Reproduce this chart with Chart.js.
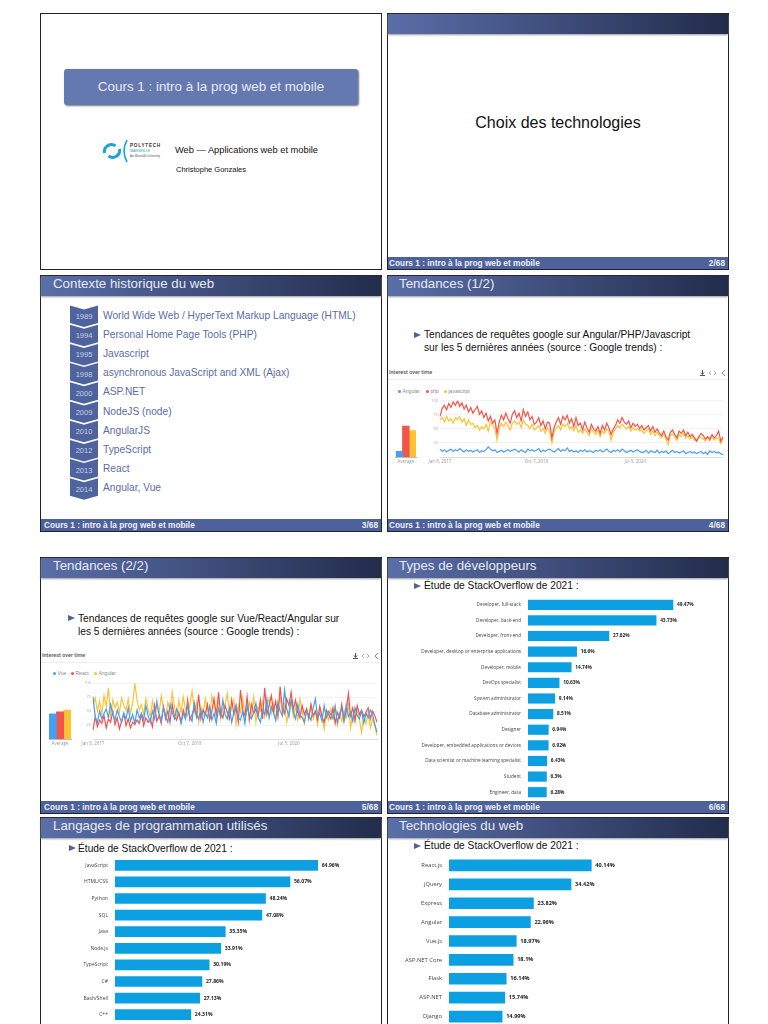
<!DOCTYPE html>
<html>
<head>
<meta charset="utf-8">
<script src="https://cdn.jsdelivr.net/npm/chart.js@4"></script>
<style>
html, body { margin: 0; padding: 0; background: #fff; width: 768px; height: 1024px; overflow: hidden; font-family: "Liberation Sans", sans-serif; }
.slide { position: absolute; width: 340px; height: 255px; border: 1px solid #222; background: #fff; box-sizing: content-box; }
.head { position: absolute; left: 0; right: 0; top: 0; height: 20px; background: linear-gradient(90deg, #5a6ea8, #222c4c); box-shadow: 0 1px 2px #999; color: #e6e9f2; font-size: 13.3px; line-height: 15px; padding-left: 12px; box-sizing: border-box; }
.foot { position: absolute; left: 0; right: 0; bottom: 0; height: 12px; background: #4d619c; color: #eef0f6; font-size: 8.3px; font-weight: bold; line-height: 12px; padding: 0 3px; display: flex; justify-content: space-between; }
.r .head { padding-left: 11px; }
.r .foot { padding-left: 1px; }
.t { position: absolute; white-space: nowrap; }
.tri { position: absolute; width: 0; height: 0; border-left: 7px solid #4d619c; border-top: 3.5px solid transparent; border-bottom: 3.5px solid transparent; }
canvas { position: absolute; }
</style>
</head>
<body>

<div class="slide" style="left:40px;top:13px;">
  <div class="t" style="left:23px;top:55px;width:294px;height:36px;background:#6479b0;border-radius:3px;box-shadow:1px 1px 2px #777;color:#e8ebf3;font-size:13.4px;line-height:36px;text-align:center;">Cours 1 : intro à la prog web et mobile</div>
  <svg class="t" style="left:60px;top:124px;" width="72" height="26" viewBox="0 0 72 26">
    <path d="M3.5 15a7 7 0 0 1 11-7" fill="none" stroke="#19a3dc" stroke-width="3"/>
    <path d="M18.5 11a7 7 0 0 1 -11 7" fill="none" stroke="#19a3dc" stroke-width="3"/>
    <path d="M26 2q-6 11 0 22" fill="none" stroke="#19a3dc" stroke-width="1.6"/>
    <text x="29" y="9" font-size="4.6" font-weight="bold" fill="#333" font-family="Liberation Sans" letter-spacing="0.8">POLYTECH</text>
    <text x="29" y="14" font-size="3.6" fill="#19a3dc" font-family="Liberation Sans">MARSEILLE</text>
    <text x="29" y="19" font-size="2.9" fill="#555" font-family="Liberation Sans">Aix-Marseille University</text>
  </svg>
  <div class="t" style="left:134px;top:131px;font-size:9.3px;color:#111;">Web — Applications web et mobile</div>
  <div class="t" style="left:135px;top:151px;font-size:7.5px;color:#111;">Christophe Gonzales</div>
</div>

<div class="slide r" style="left:387px;top:13px;">
  <div class="head"></div>
  <div class="t" style="left:0;width:340px;top:100px;text-align:center;font-size:16px;color:#111;">Choix des technologies</div>
  <div class="foot"><span>Cours 1 : intro à la prog web et mobile</span><span>2/68</span></div>
</div>

<div class="slide" id="historySlide" style="left:40px;top:275px;">
  <div class="head">Contexte historique du web</div>
  <div class="foot"><span>Cours 1 : intro à la prog web et mobile</span><span>3/68</span></div>
</div>

<div class="slide r" style="left:387px;top:275px;">
  <div class="head">Tendances (1/2)</div>
  <div class="tri" style="left:26px;top:56px;"></div>
  <div class="t" style="left:36px;top:52px;font-size:10.2px;line-height:13px;color:#111;">Tendances de requêtes google sur Angular/PHP/Javascript<br>sur les 5 dernières années (source : Google trends) :</div>
  <div class="foot"><span>Cours 1 : intro à la prog web et mobile</span><span>4/68</span></div>
</div>

<div class="slide" style="left:40px;top:557px;">
  <div class="head">Tendances (2/2)</div>
  <div class="tri" style="left:27px;top:57px;"></div>
  <div class="t" style="left:37px;top:54px;font-size:10.2px;line-height:13px;color:#111;">Tendances de requêtes google sur Vue/React/Angular sur<br>les 5 dernières années (source : Google trends) :</div>
  <div class="foot"><span>Cours 1 : intro à la prog web et mobile</span><span>5/68</span></div>
</div>

<div class="slide r" style="left:387px;top:557px;">
  <div class="head">Types de développeurs</div>
  <div class="tri" style="left:26px;top:25px;"></div>
  <div class="t" style="left:36px;top:22px;font-size:10.2px;color:#111;">Étude de StackOverflow de 2021 :</div>
  <div class="foot"><span>Cours 1 : intro à la prog web et mobile</span><span>6/68</span></div>
</div>

<div class="slide" style="left:40px;top:817px;">
  <div class="head">Langages de programmation utilisés</div>
  <div class="tri" style="left:28px;top:27px;"></div>
  <div class="t" style="left:37px;top:25px;font-size:10.2px;color:#111;">Étude de StackOverflow de 2021 :</div>
</div>

<div class="slide r" style="left:387px;top:817px;">
  <div class="head">Technologies du web</div>
  <div class="tri" style="left:26px;top:25px;"></div>
  <div class="t" style="left:36px;top:22px;font-size:10.2px;color:#111;">Étude de StackOverflow de 2021 :</div>
</div>

<script>
// Timeline of slide 3
const historyYears = ['1989', '1994', '1995', '1998', '2000', '2009', '2010', '2012', '2013', '2014'];
const historyItems = ['World Wide Web / HyperText Markup Language (HTML)', 'Personal Home Page Tools (PHP)', 'Javascript',
    'asynchronous JavaScript and XML (Ajax)', 'ASP.NET', 'NodeJS (node)', 'AngularJS', 'TypeScript', 'React', 'Angular, Vue'];

// Stack Overflow 2021 bars
const devCategories = ['Developer, full-stack', 'Developer, back-end', 'Developer, front-end', 'Developer, desktop or enterprise applications',
    'Developer, mobile', 'DevOps specialist', 'System administrator', 'Database administrator', 'Designer',
    'Developer, embedded applications or devices', 'Data scientist or machine learning specialist', 'Student', 'Engineer, data'];
const devValues = [49.47, 43.73, 27.62, 16.6, 14.74, 10.63, 9.14, 8.51, 6.94, 6.92, 6.43, 6.3, 6.28];

const langCategories = ['JavaScript', 'HTML/CSS', 'Python', 'SQL', 'Java', 'Node.js', 'TypeScript', 'C#', 'Bash/Shell', 'C++'];
const langValues = [64.96, 56.07, 48.24, 47.08, 35.35, 33.91, 30.19, 27.86, 27.13, 24.31];

const webCategories = ['React.js', 'jQuery', 'Express', 'Angular', 'Vue.js', 'ASP.NET Core', 'Flask', 'ASP.NET', 'Django'];
const webValues = [40.14, 34.42, 23.82, 22.96, 18.97, 18.1, 16.14, 15.74, 14.99];

// Google trends
const trendTicks = ['Jan 8, 2017', 'Oct 7, 2018', 'Jul 5, 2020'];
const trendTickIndex = [0, 44, 89];
const trendAxisValues = [0, 25, 50, 75, 100];

const phpTrend = [72,86,92,84,95,88,98,92,100,90,96,85,92,80,88,78,84,90,76,82,
    70,78,64,72,60,66,42,62,74,66,78,68,60,76,82,70,78,64,84,72,
    80,66,72,58,62,70,56,64,50,62,60,34,52,62,70,58,72,66,74,60,
    68,54,70,56,60,48,62,52,44,58,50,46,54,42,56,48,60,52,40,50,
    56,66,60,70,62,58,64,52,60,54,58,50,56,48,52,56,46,54,44,50,
    42,38,46,36,30,44,48,40,34,46,42,48,38,44,36,40,34,28,36,42,
    38,32,36,30,40,34,38,46,28,36];
const jsTrend = [66,70,62,72,64,68,60,70,66,72,62,68,56,66,58,60,52,56,48,54,
    50,58,46,62,56,52,30,50,60,54,62,56,48,60,64,58,62,52,66,58,
    56,50,58,48,52,56,46,50,42,52,46,25,44,52,56,48,58,54,60,50,
    54,46,56,44,48,42,50,44,38,50,44,40,48,36,46,42,50,46,30,44,
    50,56,52,58,54,50,54,46,52,48,50,46,48,42,46,50,40,46,38,44,
    38,34,40,32,22,38,42,36,30,40,36,42,34,38,32,36,30,30,36,34,
    32,28,36,34,36,30,34,32,24,34];
const angularTrend = [14,10,13,9,12,14,10,13,11,15,12,9,13,10,12,9,11,13,8,11,
    10,13,18,14,11,13,8,10,12,9,11,13,10,12,14,11,9,13,10,8,
    14,11,13,10,12,15,9,12,10,13,14,11,9,12,15,10,13,11,16,10,
    12,9,11,8,12,10,13,9,11,10,8,12,10,13,9,11,14,10,8,12,
    10,13,9,14,11,8,10,12,9,11,13,10,8,9,12,7,11,9,8,12,
    7,10,8,11,6,9,12,8,10,7,9,11,6,8,10,7,9,6,8,10,
    6,9,5,11,8,10,7,9,6,4];

const vueTrend = [76,40,30,50,36,46,54,38,62,44,34,52,40,30,46,36,56,32,44,28,
    52,38,46,34,60,42,30,50,36,68,44,34,56,40,30,62,48,36,54,42,
    28,46,36,60,40,32,66,44,36,52,30,48,38,58,34,46,28,54,40,70,
    44,36,56,30,48,62,38,34,50,28,60,42,36,48,64,40,30,52,44,72,
    38,58,46,34,66,50,42,88,54,40,70,48,36,62,44,38,30,50,42,34,
    56,72,40,46,32,60,38,50,44,36,58,30,46,54,34,62,40,48,32,56,
    42,36,50,28,46,38,52,44,26,12];
const reactTrend = [16,40,22,34,28,42,20,36,30,50,26,38,18,32,46,24,36,20,30,26,
    34,28,44,24,38,30,36,22,60,32,42,28,58,36,50,30,62,40,34,48,
    30,52,38,70,34,44,56,40,80,36,52,44,62,34,50,72,42,84,46,38,
    60,48,36,70,44,56,30,88,50,42,76,34,62,46,54,40,70,36,92,44,
    60,78,50,68,40,94,56,46,72,60,84,54,70,48,38,60,44,54,36,62,
    42,50,34,58,40,30,52,44,36,56,28,48,38,62,32,50,82,42,56,34,
    60,44,52,40,48,56,36,50,42,30];
const angularTrend2 = [60,74,50,68,44,78,58,92,40,70,56,66,48,74,60,52,72,46,64,100,
    70,52,62,44,72,54,40,68,50,60,46,78,56,42,66,50,84,58,36,70,
    48,76,54,42,62,86,50,66,30,58,44,72,52,38,78,60,46,66,36,54,
    62,82,44,56,70,26,60,48,74,38,54,66,42,76,30,58,50,68,40,60,
    72,46,64,34,56,78,42,62,30,52,68,40,58,34,72,48,28,54,42,62,
    36,50,26,58,44,18,48,34,54,40,60,24,46,32,52,38,62,20,44,30,
    50,36,12,42,28,48,20,36,24,6];

const vueAverage = [45], reactAverage = [49], angularAverage = [52];
const angularAverage2 = [10], phpAverage = [55], jsAverage = [47];

const barBlue = '#0c9fe2';
const trendBlue = '#459ff4', trendRed = '#f2544a', trendYellow = '#fcc234';

// Value written after each bar
const valueLabels = {
    id: 'valueLabels',
    afterDatasetsDraw(chart) {
        const ctx = chart.ctx;
        ctx.save();
        ctx.font = 'bold ' + chart.options.valueFontSize + 'px "Open Sans"';
        ctx.fillStyle = '#222';
        ctx.textBaseline = 'middle';
        chart.getDatasetMeta(0).data.forEach((bar, i) => {
            ctx.fillText(chart.data.datasets[0].data[i] + '%', bar.x + 4, bar.y);
        });
        ctx.restore();
    }
};

function addCanvas(left, top, width, height) {
    const canvas = document.createElement('canvas');
    canvas.width = width;
    canvas.height = height;
    canvas.style.left = left + 'px';
    canvas.style.top = top + 'px';
    document.body.appendChild(canvas);
    return canvas;
}

function barChart(left, top, width, height, labelWidth, xMax, categories, values, thickness, labelFont, valueFont) {
    new Chart(addCanvas(left, top, width, height), {
        type: 'bar',
        data: { labels: categories, datasets: [{ data: values, backgroundColor: barBlue, barThickness: thickness }] },
        plugins: [valueLabels],
        options: {
            indexAxis: 'y',
            responsive: false,
            animation: false,
            valueFontSize: valueFont,
            layout: { padding: 0 },
            plugins: { legend: { display: false }, tooltip: { enabled: false } },
            scales: {
                x: { display: false, min: 0, max: xMax },
                y: {
                    afterFit(axis) {
                        axis.width = labelWidth;
                        axis.paddingTop = 0;
                        axis.paddingBottom = 0;
                    },
                    grid: { display: false, drawTicks: false },
                    border: { display: false },
                    ticks: { autoSkip: false, padding: 7, color: '#444', font: { family: 'Open Sans', size: labelFont } }
                }
            }
        }
    });
}

// Same vertical scale for the lines and the average bars beside them
function trendCharts(left, top, series, averages, barBox, plotBox) {
    const colors = [trendBlue, trendRed, trendYellow];
    new Chart(addCanvas(left + barBox.x, top, barBox.w, plotBox.h + 12), {
        type: 'bar',
        data: {
            labels: ['Average'],
            datasets: averages.map((a, i) => ({ data: a, backgroundColor: colors[i] }))
        },
        options: {
            responsive: false,
            animation: false,
            layout: { padding: { left: barBox.padLeft, right: barBox.padRight, top: plotBox.padTop, bottom: 0 } },
            plugins: { legend: { display: false }, tooltip: { enabled: false } },
            datasets: { bar: { categoryPercentage: 1, barPercentage: 1 } },
            scales: {
                y: { display: false, min: 0, max: 100 },
                x: {
                    afterFit(axis) { axis.height = 12; },
                    grid: { display: false, drawTicks: false },
                    border: { color: '#bbb' },
                    ticks: { padding: 2, color: '#999', font: { family: 'Open Sans', size: 4.5 } }
                }
            }
        }
    });
    new Chart(addCanvas(left, top, plotBox.w, plotBox.h + 12), {
        type: 'line',
        data: {
            labels: series[0].map((v, i) => i),
            datasets: series.map((s, i) => ({ data: s, borderColor: colors[i], borderWidth: 1.2, pointRadius: 0, tension: 0 }))
        },
        options: {
            responsive: false,
            animation: false,
            layout: { padding: { top: plotBox.padTop, right: plotBox.padRight, bottom: 0, left: 0 } },
            plugins: { legend: { display: false }, tooltip: { enabled: false } },
            scales: {
                y: {
                    min: 0,
                    max: 100,
                    afterBuildTicks(axis) { axis.ticks = trendAxisValues.map(v => ({ value: v })); },
                    afterFit(axis) {
                        axis.width = plotBox.left;
                        axis.paddingTop = 0;
                        axis.paddingBottom = 0;
                    },
                    grid: { color: '#ececec', drawTicks: false, lineWidth: 0.7 },
                    border: { display: false },
                    ticks: { padding: 2, color: '#aaa', font: { family: 'Open Sans', size: 4 }, callback: v => v === 0 ? '' : v }
                },
                x: {
                    afterFit(axis) { axis.height = 12; },
                    offset: false,
                    grid: { display: false, drawTicks: false },
                    border: { color: '#ddd' },
                    ticks: {
                        autoSkip: false,
                        maxRotation: 0,
                        padding: 2,
                        color: '#999',
                        font: { family: 'Open Sans', size: 4.5 },
                        callback: (v, i) => trendTickIndex.includes(i) ? trendTicks[trendTickIndex.indexOf(i)] : ''
                    }
                }
            }
        }
    });
}

// Header strip of the trends widget: title, legend, icons
function trendHeader(left, headerY, legendY, legendX, names, width) {
    const colors = [trendBlue, trendRed, trendYellow];
    const box = document.createElement('div');
    box.className = 't';
    box.style.cssText = 'left:' + left + 'px;top:' + headerY + 'px;width:' + width + 'px;height:' + (legendY - headerY + 10) + 'px;';
    let html = '<div class="t" style="left:1px;top:0;font-size:5.5px;font-weight:500;color:#555;font-family:Roboto;">Interest over time</div>' +
        '<div class="t" style="left:0;top:10px;width:' + width + 'px;height:1px;background:#eee;"></div>' +
        '<svg class="t" style="left:' + (width - 29) + 'px;top:0;" width="28" height="8" viewBox="0 0 28 8">' +
        '<path d="M2 6.5h5M4.5 1v4M3 3.5l1.5 2 1.5-2" stroke="#555" stroke-width="1" fill="none"/>' +
        '<path d="M13 2l-2 2 2 2M16 2l2 2-2 2" stroke="#888" stroke-width="0.7" fill="none"/>' +
        '<path d="M27 1l-3 3 3 3" stroke="#666" stroke-width="0.8" fill="none"/></svg>';
    let x = legendX;
    names.forEach((name, i) => {
        html += '<div class="t" style="left:' + x + 'px;top:' + (legendY - headerY + 1.5) + 'px;width:3px;height:3px;border-radius:50%;background:' + colors[i] + ';"></div>';
        html += '<div class="t" style="left:' + (x + 5) + 'px;top:' + (legendY - headerY) + 'px;font-size:5px;color:#888;">' + name + '</div>';
        x += 5 + name.length * 2.5 + 5.5;
    });
    box.innerHTML = html;
    document.body.appendChild(box);
}

function drawTimeline() {
    const slide = document.getElementById('historySlide');
    const pitch = 19.2, x0 = 29, x1 = 57, top0 = 29.5;
    let svg = '<svg class="t" style="left:0;top:0;" width="340" height="255">';
    historyYears.forEach((year, i) => {
        const y = top0 + pitch * i, mid = (x0 + x1) / 2;
        svg += '<polygon fill="#4f639f" points="' + [x0, y, mid, y + 4, x1, y, x1, y + 17.5, mid, y + 21.5, x0, y + 17.5].join(' ') + '"/>';
        svg += '<text x="' + mid + '" y="' + (y + 13.5) + '" text-anchor="middle" font-size="7.5" fill="#c9d0e4" font-family="Liberation Sans">' + year + '</text>';
        svg += '<text x="62" y="' + (y + 13) + '" font-size="10.2" fill="#5a6da6" font-family="Liberation Sans">' + historyItems[i] + '</text>';
    });
    slide.insertAdjacentHTML('beforeend', svg + '</svg>');
}

document.addEventListener('DOMContentLoaded', () => {
    drawTimeline();

    trendHeader(388, 369, 388, 9.5, ['Angular', 'php', 'javascript'], 339);
    trendCharts(388, 396, [angularTrend, phpTrend, jsTrend], [angularAverage2, phpAverage, jsAverage],
        { x: 2, w: 33, padLeft: 5.7, padRight: 7 }, { w: 340, h: 61.7, left: 52, padTop: 4.7, padRight: 5 });

    trendHeader(41, 652, 670, 11.5, ['Vue', 'React', 'Angular'], 339);
    trendCharts(41, 679, [vueTrend, reactTrend, angularTrend2], [vueAverage, reactAverage, angularAverage],
        { x: 2, w: 34, padLeft: 6, padRight: 6 }, { w: 340, h: 60.3, left: 52, padTop: 4.3, padRight: 4 });

    barChart(388, 597, 340, 203, 140, 200 / 2.93, devCategories, devValues, 9.5, 4.7, 4.8);
    barChart(41, 857, 340, 166, 74, 266 / 3.12, langCategories, langValues, 10, 5, 5.1);
    barChart(388, 856, 340, 170, 61, 279 / 3.545, webCategories, webValues, 11, 5.8, 5.6);
});
</script>
</body>
</html>
